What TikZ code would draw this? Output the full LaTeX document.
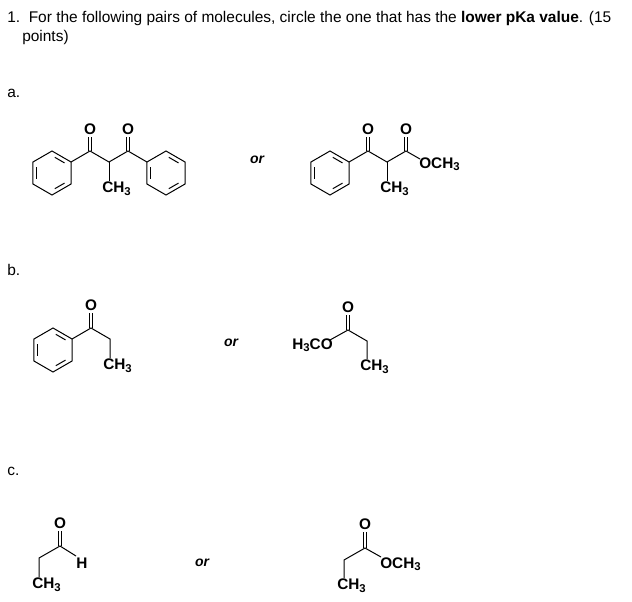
\documentclass[tikz,border=0pt]{standalone}
\usepackage{fontspec}
\setmainfont{Liberation Sans}
\usetikzlibrary{calc}
\newcommand{\sub}[1]{\raisebox{-0.3ex}{\fontsize{8.5}{9}\selectfont #1}}
\newcommand{\benz}[3]{% name, cx, cy
  \coordinate (#1) at (#2,#3);
  \coordinate (#1-30) at ($(#1)+(19.05,-11)$);
  \coordinate (#1-90) at ($(#1)+(0,-22)$);
  \coordinate (#1-150) at ($(#1)+(-19.05,-11)$);
  \coordinate (#1-210) at ($(#1)+(-19.05,11)$);
  \coordinate (#1-270) at ($(#1)+(0,22)$);
  \coordinate (#1-330) at ($(#1)+(19.05,11)$);
  \draw[bond] (#1-30)--(#1-90)--(#1-150)--(#1-210)--(#1-270)--(#1-330)--cycle;
  \draw[bond] ($(#1)+(-15.3,-5.9)$) -- ($(#1)+(-15.3,5.9)$);
  \draw[bond] ($(#1)+(2.8,15.7)$) -- ($(#1)+(12.5,10.1)$);
  \draw[bond] ($(#1)+(2.8,-15.7)$) -- ($(#1)+(12.5,-10.1)$);
}
\newcommand{\co}[2]{% carbon coord, O coord (vertical)
  \draw[bond] ($(#1)+(-1.8,0)$) -- ($(#2)+(-1.8,8)$);
  \draw[bond] ($(#1)+(1.8,0)$) -- ($(#2)+(1.8,8)$);
}
\begin{document}
\begin{tikzpicture}[x=0.75pt,y=-0.75pt,
  bond/.style={line width=0.75pt},
  lab/.style={font=\bfseries\fontsize{11.5}{13}\selectfont,inner sep=0pt},
  txt/.style={font=\fontsize{11.6}{13}\selectfont,inner sep=0pt,anchor=base west},
  ortxt/.style={font=\bfseries\itshape\fontsize{10.5}{12}\selectfont,inner sep=0pt}]
\useasboundingbox (0,0) rectangle (632,601);
\node[txt] (t1) at (7,22) {1.\ \ For the following pairs of molecules, circle the one that has the \textbf{lower pKa value}. (15};
\node[txt] (t2) at (22,41) {points)};
\node[txt] (la) at (7,97) {a.};
\node[txt] (lb) at (7,275) {b.};
\node[txt] (lc) at (7,475) {c.};
\node[ortxt] (or1) at (257,160) {or};
\node[ortxt] (or2) at (231,343) {or};
\node[ortxt] (or3) at (202,563) {or};
% a-left
\benz{r1}{52}{173}
\coordinate (a1) at (90,151); \coordinate (a2) at (109,162); \coordinate (a3) at (128,151);
\benz{r2}{166}{173}
\node[lab] (o1) at (90,129) {O}; \node[lab] (o2) at (128,129) {O};
\node[lab,anchor=north west] (m1) at (102,182) {CH\sub{3}};
\draw[bond] (r1-30) -- (a1) -- (a2) -- (a3) -- (r2-150);
\draw[bond] (a2) -- (109,181);
\co{a1}{o1} \co{a3}{o2}
% a-right
\benz{r3}{330}{173}
\coordinate (b1) at (368,151); \coordinate (b2) at (387,162); \coordinate (b3) at (406,151);
\node[lab] (o3) at (368,129) {O}; \node[lab] (o4) at (406,129) {O};
\node[lab,anchor=north west] (m2) at (380,182) {CH\sub{3}};
\node[lab,anchor=west] (m3) at (419,164) {OCH\sub{3}};
\draw[bond] (r3-30) -- (b1) -- (b2) -- (b3) -- (420,159);
\draw[bond] (b2) -- (387,181);
\co{b1}{o3} \co{b3}{o4}
% b-left
\benz{r4}{53}{350}
\coordinate (c1) at (91,328); \coordinate (c2) at (110,339);
\node[lab] (o5) at (91,305) {O};
\node[lab,anchor=north west] (m4) at (103,359) {CH\sub{3}};
\draw[bond] (r4-30) -- (c1) -- (c2) -- (110,358);
\co{c1}{o5}
% b-right
\coordinate (d1) at (348,330); \coordinate (d2) at (367,341);
\node[lab,anchor=east] (m5) at (333,345) {H\sub{3}CO};
\node[lab] (o6) at (348,307) {O};
\node[lab,anchor=north west] (m6) at (360,360) {CH\sub{3}};
\draw[bond] (330,340) -- (d1) -- (d2) -- (367,359);
\co{d1}{o6}
% c-left
\coordinate (e1) at (60,546); \coordinate (e2) at (39,558);
\node[lab] (o7) at (60,523) {O};
\node[lab] (h1) at (82,563) {H};
\node[lab,anchor=north west] (m7) at (32,578) {CH\sub{3}};
\draw[bond] (76,556) -- (e1) -- (e2) -- (39,577);
\co{e1}{o7}
% c-right
\coordinate (f1) at (365,548); \coordinate (f2) at (344,560);
\node[lab] (o8) at (365,524) {O};
\node[lab,anchor=west] (m8) at (380,564) {OCH\sub{3}};
\node[lab,anchor=north west] (m9) at (337,579) {CH\sub{3}};
\draw[bond] (381,557) -- (f1) -- (f2) -- (344,578);
\co{f1}{o8}
\end{tikzpicture}
\end{document}
